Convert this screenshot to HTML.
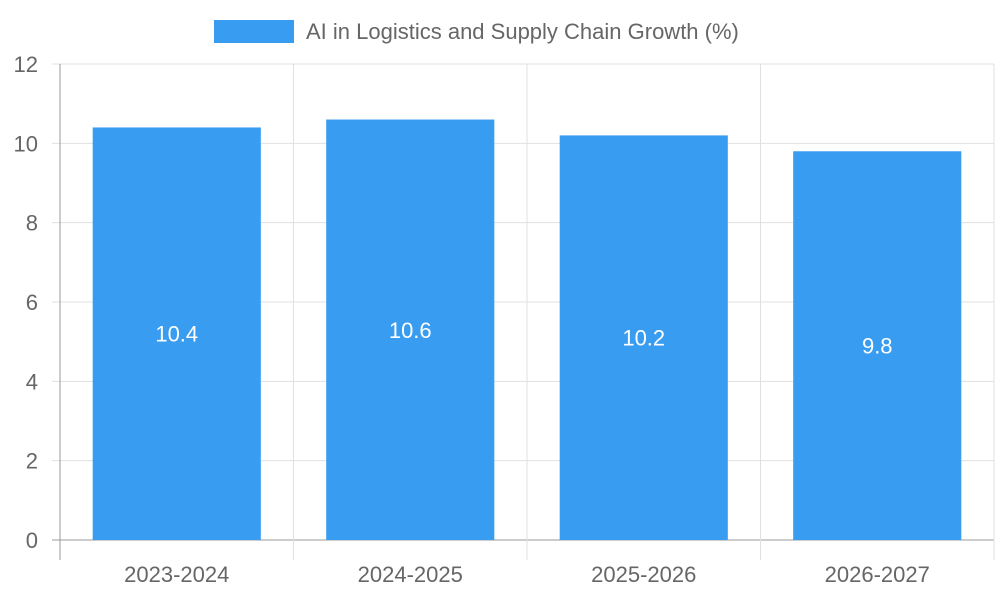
<!DOCTYPE html>
<html><head><meta charset="utf-8"><style>
html,body{margin:0;padding:0;background:#fff;}
svg{display:block;font-family:"Liberation Sans",sans-serif;}
</style></head><body>
<svg id="chart" width="1000" height="600">
<g>
<rect x="214" y="20" width="80" height="23" fill="#389cf0"/>
<text x="306" y="39" font-size="22" fill="#666">AI in Logistics and Supply Chain Growth (%)</text>
</g>
<g id="grid"></g><g id="bars"></g><g id="axes"></g>
</svg>
<script>
const categories=["2023-2024","2024-2025","2025-2026","2026-2027"];
const values=[10.4,10.6,10.2,9.8];
const yTicks=[0,2,4,6,8,10,12];
const svg=document.getElementById('chart');
const NS='http://www.w3.org/2000/svg';
const L=60,R=994,T=64,B=540,yMax=12;
const y=v=>B-(v/yMax)*(B-T);
const bw=(R-L)/categories.length;
const x=i=>L+bw*i;
function mk(tag,attrs,parent,text){const e=document.createElementNS(NS,tag);for(const k in attrs)e.setAttribute(k,attrs[k]);if(text!==undefined)e.textContent=text;parent.appendChild(e);return e;}
const grid=document.getElementById('grid'),bars=document.getElementById('bars'),axes=document.getElementById('axes');
yTicks.forEach(t=>{
 const l=mk('line',{x1:52,x2:R,y1:y(t),y2:y(t),stroke:t===0?'#999':'#e0e0e0','stroke-width':1},grid);
 
 
 const tx=mk('text',{x:38,y:y(t)+8,'text-anchor':'end','font-size':22,fill:'#666'},axes,String(t));
 
 
});
for(let i=0;i<=categories.length;i++){
 const l=mk('line',{x1:x(i),x2:x(i),y1:T,y2:560,stroke:i===0?'#999':'#e0e0e0','stroke-width':1},grid);
 
 
}
categories.forEach((c,i)=>{
 const w=bw*0.72,cx=x(i)+bw/2,v=values[i];
 const r=mk('rect',{x:cx-w/2,y:y(v),width:w,height:B-y(v),fill:'#389cf0'},bars);
 
 
 const vt=mk('text',{x:cx,y:(y(v)+B)/2+8,'text-anchor':'middle','font-size':22,fill:'#fff'},bars,String(v));
 
 
 const tx=mk('text',{x:cx,y:582,'text-anchor':'middle','font-size':22,fill:'#666'},axes,c);
 
 
});
</script>
</body></html>
